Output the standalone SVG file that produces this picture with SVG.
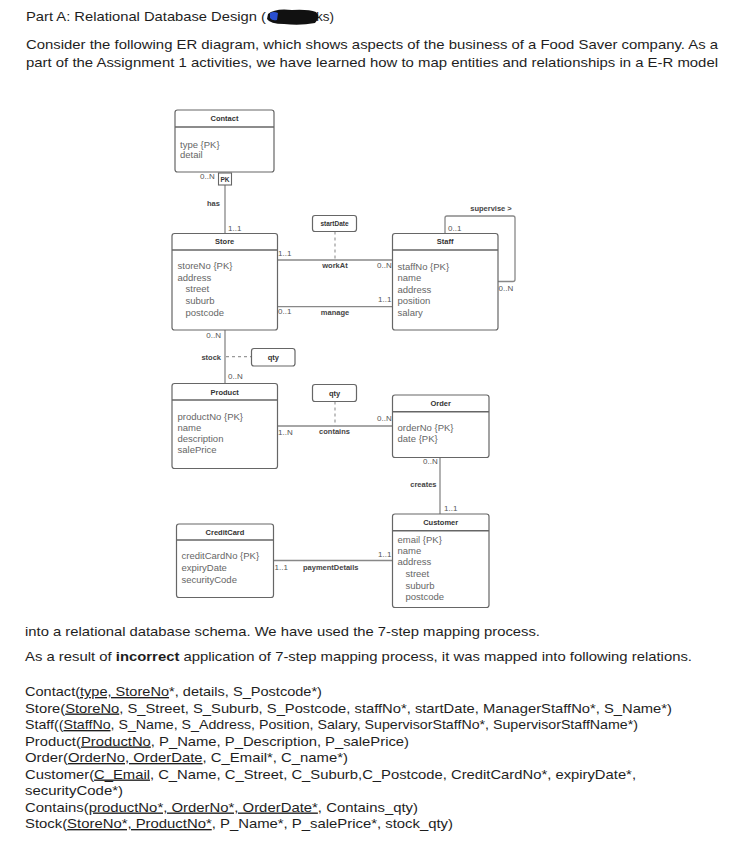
<svg xmlns="http://www.w3.org/2000/svg" width="743" height="847" viewBox="0 0 743 847">
<style>
.body{font-family:"Liberation Sans",Arial,sans-serif;font-size:13.5px;fill:#1e1e1e}
.ent{fill:#fff;stroke:#666;stroke-width:1.2}
.hd{stroke:#666;stroke-width:1.6}
.t{font-family:"Liberation Sans",Arial,sans-serif;font-size:7.5px;font-weight:bold;fill:#333;text-anchor:middle}
.a{font-family:"Liberation Sans",Arial,sans-serif;font-size:9.5px;fill:#666}
.c{font-family:"Liberation Sans",Arial,sans-serif;font-size:8px;fill:#555}
.r{font-family:"Liberation Sans",Arial,sans-serif;font-size:7.5px;font-weight:bold;fill:#444}
.ln{fill:none;stroke:#888;stroke-width:1.3}
.ds{fill:none;stroke:#999;stroke-width:1.2;stroke-dasharray:3 3}
.u{text-decoration:underline}
</style>

<g id="header-text">
<text class="body" x="26" y="21" textLength="240" lengthAdjust="spacingAndGlyphs">Part A: Relational Database Design (</text>
<text class="body" x="316" y="21">ks)</text>
<path d="M268 14 Q275 8 292 10 Q308 9 316 12 Q321 17 315 23 Q300 26 284 24 Q270 24 267 19 Z" fill="#111"/>
<path d="M270 13 Q274 11 278 13 L277 20 Q272 21 270 18 Z" fill="#2a4fd0"/>
<text class="body" x="26" y="48.5" textLength="692" lengthAdjust="spacingAndGlyphs">Consider the following ER diagram, which shows aspects of the business of a Food Saver company. As a</text>
<text class="body" x="26" y="67" textLength="692" lengthAdjust="spacingAndGlyphs">part of the Assignment 1 activities, we have learned how to map entities and relationships in a E-R model</text>
</g>

<g id="connectors">
<line class="ln" x1="225" y1="185" x2="225" y2="233.5"/>
<line class="ln" x1="277.5" y1="260" x2="392.5" y2="260"/>
<line class="ds" x1="335" y1="231.5" x2="335" y2="260"/>
<line class="ln" x1="277.5" y1="306.7" x2="392.5" y2="306.7"/>
<path class="ln" d="M445 233.5 V218 Q445 216 447 216 H513 Q515 216 515 218 V279.5 Q515 281.5 513 281.5 H498"/>
<line class="ln" x1="225" y1="330" x2="225" y2="383.5"/>
<line class="ds" x1="226" y1="356.7" x2="251.5" y2="356.7"/>
<line class="ln" x1="277.5" y1="426" x2="392.5" y2="426"/>
<line class="ds" x1="335" y1="401.5" x2="335" y2="426"/>
<line class="ln" x1="440" y1="457.5" x2="440" y2="514"/>
<line class="ln" x1="273.5" y1="560.5" x2="392.5" y2="560.5"/>
<text class="c" x="200" y="178.5">0..N</text>
<text class="r" x="207" y="205.5">has</text>
<text class="c" x="228" y="230.5">1..1</text>
<text class="c" x="278" y="255.5">1..1</text>
<text class="r" x="335" y="267.5" text-anchor="middle">workAt</text>
<text class="c" x="377" y="268">0..N</text>
<text class="c" x="278" y="313.5">0..1</text>
<text class="r" x="335" y="315" text-anchor="middle">manage</text>
<text class="c" x="378" y="302">1..1</text>
<text class="r" x="491" y="210.5" text-anchor="middle">supervise &gt;</text>
<text class="c" x="448" y="230.5">0..1</text>
<text class="c" x="498.5" y="291">0..N</text>
<text class="c" x="221" y="337.5" text-anchor="end">0..N</text>
<text class="r" x="221" y="359.5" text-anchor="end">stock</text>
<text class="c" x="228" y="379">0..N</text>
<text class="c" x="278" y="434.5">1..N</text>
<text class="r" x="334.5" y="433.5" text-anchor="middle">contains</text>
<text class="c" x="377" y="421">0..N</text>
<text class="c" x="423" y="463.5">0..N</text>
<text class="r" x="436.5" y="487" text-anchor="end">creates</text>
<text class="c" x="444" y="511">1..1</text>
<text class="c" x="274.5" y="569.5">1..1</text>
<text class="r" x="303" y="569.5">paymentDetails</text>
<text class="c" x="378" y="556.5">1..1</text>
</g>

<g id="contact">
<rect class="ent" x="175" y="110" width="99" height="62" rx="2.5"/>
<line class="hd" x1="175" y1="127" x2="274" y2="127"/>
<text class="t" x="224.5" y="121">Contact</text>
<text class="a" x="180" y="147.5">type {PK}</text>
<text class="a" x="180" y="158">detail</text>
</g>
<g id="pk-box">
<rect x="218.5" y="173" width="13" height="12" fill="#fff" stroke="#666" stroke-width="1.1"/>
<text class="t" x="225" y="181.5" style="font-size:6.5px">PK</text>
</g>
<g id="startDate">
<rect class="ent" x="312.5" y="215.5" width="44" height="16" rx="2.5"/>
<text class="t" x="334.5" y="226" style="font-size:6.5px">startDate</text>
</g>
<g id="store">
<rect class="ent" x="172" y="233.5" width="105.5" height="96.5" rx="2.5"/>
<line class="hd" x1="172" y1="250" x2="277.5" y2="250"/>
<text class="t" x="224.7" y="244">Store</text>
<text class="a" x="177.5" y="269.2">storeNo {PK}</text>
<text class="a" x="177.5" y="280.8">address</text>
<text class="a" x="185.5" y="292.4">street</text>
<text class="a" x="185.5" y="304">suburb</text>
<text class="a" x="185.5" y="315.6">postcode</text>
</g>
<g id="staff">
<rect class="ent" x="392.5" y="233.5" width="105.5" height="96.5" rx="2.5"/>
<line class="hd" x1="392.5" y1="250" x2="498" y2="250"/>
<text class="t" x="445.2" y="244">Staff</text>
<text class="a" x="397.5" y="269.5">staffNo {PK}</text>
<text class="a" x="397.5" y="281.1">name</text>
<text class="a" x="397.5" y="292.7">address</text>
<text class="a" x="397.5" y="304.3">position</text>
<text class="a" x="397.5" y="315.9">salary</text>
</g>
<g id="stock-qty">
<rect class="ent" x="251.5" y="348.5" width="43.5" height="17.5" rx="2.5"/>
<text class="t" x="273.3" y="359.5">qty</text>
</g>
<g id="product">
<rect class="ent" x="172" y="383.5" width="105.5" height="85" rx="2.5"/>
<line class="hd" x1="172" y1="400" x2="277.5" y2="400"/>
<text class="t" x="224.7" y="394.5">Product</text>
<text class="a" x="177.5" y="419.8">productNo {PK}</text>
<text class="a" x="177.5" y="431">name</text>
<text class="a" x="177.5" y="442.2">description</text>
<text class="a" x="177.5" y="453.4">salePrice</text>
</g>
<g id="contains-qty">
<rect class="ent" x="312.5" y="384.5" width="44" height="17" rx="2.5"/>
<text class="t" x="334.5" y="395.5">qty</text>
</g>
<g id="order">
<rect class="ent" x="392.5" y="395" width="96.5" height="62.5" rx="2.5"/>
<line class="hd" x1="392.5" y1="411.7" x2="489" y2="411.7"/>
<text class="t" x="440.7" y="405.8">Order</text>
<text class="a" x="397.5" y="430.8">orderNo {PK}</text>
<text class="a" x="397.5" y="442.4">date {PK}</text>
</g>
<g id="customer">
<rect class="ent" x="392.5" y="514" width="96.5" height="93.5" rx="2.5"/>
<line class="hd" x1="392.5" y1="530.7" x2="489" y2="530.7"/>
<text class="t" x="440.7" y="524.7">Customer</text>
<text class="a" x="397.5" y="542.5">email {PK}</text>
<text class="a" x="397.5" y="553.9">name</text>
<text class="a" x="397.5" y="565.4">address</text>
<text class="a" x="405.5" y="577.1">street</text>
<text class="a" x="405.5" y="588.8">suburb</text>
<text class="a" x="405.5" y="600.4">postcode</text>
</g>
<g id="creditcard">
<rect class="ent" x="176.5" y="524" width="97" height="73.5" rx="2.5"/>
<line class="hd" x1="176.5" y1="540" x2="273.5" y2="540"/>
<text class="t" x="225" y="534.5">CreditCard</text>
<text class="a" x="181.5" y="559">creditCardNo {PK}</text>
<text class="a" x="181.5" y="571.3">expiryDate</text>
<text class="a" x="181.5" y="583">securityCode</text>
</g>

<g id="lower-text">
<text class="body" x="25" y="636" textLength="515" lengthAdjust="spacingAndGlyphs">into a relational database schema. We have used the 7-step mapping process.</text>
<text class="body" x="25" y="661" textLength="667" lengthAdjust="spacingAndGlyphs">As a result of <tspan font-weight="bold">incorrect</tspan> application of 7-step mapping process, it was mapped into following relations.</text>
<text class="body" x="25" y="696" textLength="297" lengthAdjust="spacingAndGlyphs">Contact(<tspan class="u">type, StoreNo</tspan>*, details, S_Postcode*)</text>
<text class="body" x="25" y="712.5" textLength="647" lengthAdjust="spacingAndGlyphs">Store(<tspan class="u">StoreNo</tspan>, S_Street, S_Suburb, S_Postcode, staffNo*, startDate, ManagerStaffNo*, S_Name*)</text>
<text class="body" x="25" y="729" textLength="613" lengthAdjust="spacingAndGlyphs">Staff((<tspan class="u">StaffNo</tspan>, S_Name, S_Address, Position, Salary, SupervisorStaffNo*, SupervisorStaffName*)</text>
<text class="body" x="25" y="745.5" textLength="384" lengthAdjust="spacingAndGlyphs">Product(<tspan class="u">ProductNo</tspan>, P_Name, P_Description, P_salePrice)</text>
<text class="body" x="25" y="762" textLength="323" lengthAdjust="spacingAndGlyphs">Order(<tspan class="u">OrderNo, OrderDate</tspan>, C_Email*, C_name*)</text>
<text class="body" x="25" y="778.5" textLength="611" lengthAdjust="spacingAndGlyphs">Customer(<tspan class="u">C_Email</tspan>, C_Name, C_Street, C_Suburb,C_Postcode, CreditCardNo*, expiryDate*,</text>
<text class="body" x="25" y="795" textLength="98" lengthAdjust="spacingAndGlyphs">securityCode*)</text>
<text class="body" x="25" y="811.5" textLength="393" lengthAdjust="spacingAndGlyphs">Contains(<tspan class="u">productNo*, OrderNo*, OrderDate*</tspan>, Contains_qty)</text>
<text class="body" x="25" y="828" textLength="428" lengthAdjust="spacingAndGlyphs">Stock(<tspan class="u">StoreNo*, ProductNo*</tspan>, P_Name*, P_salePrice*, stock_qty)</text>
</g>
</svg>
